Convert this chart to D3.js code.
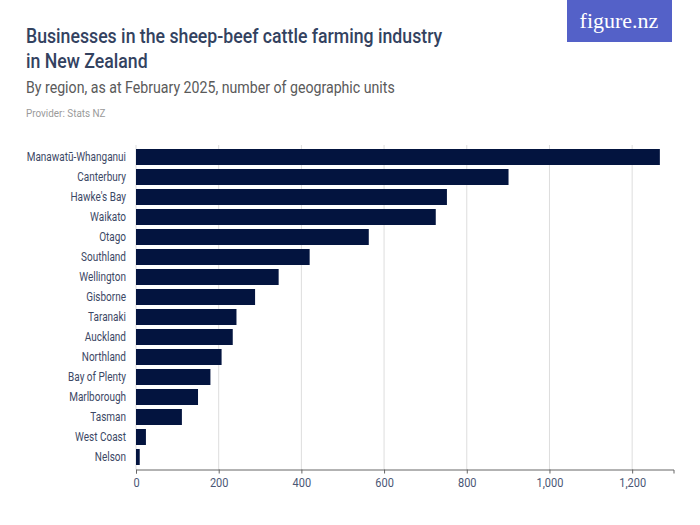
<!DOCTYPE html>
<html>
<head>
<meta charset="utf-8">
<script src="https://cdn.jsdelivr.net/npm/d3@7"></script>
<style>
  body { margin: 0; background: #fff; }
  svg { display: block; font-family: Roboto, "Noto Sans", sans-serif; }
</style>
</head>
<body>
<div id="chart"></div>
<script>
var regions = ['Manawatū-Whanganui', 'Canterbury', "Hawke's Bay", 'Waikato', 'Otago', 'Southland',
    'Wellington', 'Gisborne', 'Taranaki', 'Auckland', 'Northland', 'Bay of Plenty',
    'Marlborough', 'Tasman', 'West Coast', 'Nelson']
var units = [1267, 901, 752, 725, 563, 420, 345, 288, 243, 234, 207, 180, 150, 111, 24, 9]
var tickValues = [0, 200, 400, 600, 800, 1000, 1200]

var width = 700,
    height = 525,
    margins = {top: 147, right: 26.5, bottom: 58, left: 136}

var colors = {
    bar: '#03143f',
    title: '#33425f',
    subtitle: '#5a5a5a',
    provider: '#9a9a9a',
    label: '#3c4865',
    tick: '#4a5675',
    grid: '#dddddd',
    axis: '#666666',
    logo: '#5461c8'
}

var svg = d3.select('#chart').append('svg')
    .attr('width', width)
    .attr('height', height)

// the original uses a condensed grotesk, so squeeze Roboto horizontally
function headerText(x, y, size, weight, fill, squeeze, txt) {
    return svg.append('text')
        .attr('transform', 'translate(' + x + ',' + y + ') scale(' + squeeze + ',1)')
        .attr('fill', fill)
        .style('font-size', size + 'px')
        .style('font-weight', weight)
        .text(txt)
}

headerText(26, 43, 21, 500, colors.title, 0.843, 'Businesses in the sheep-beef cattle farming industry')
headerText(26, 68, 21, 500, colors.title, 0.843, 'in New Zealand')
headerText(26, 93, 16, 400, colors.subtitle, 0.885, 'By region, as at February 2025, number of geographic units')
headerText(26, 117, 11, 400, colors.provider, 0.9, 'Provider: Stats NZ')

// logo
svg.append('rect')
    .attr('x', 567).attr('y', 0)
    .attr('width', 105).attr('height', 42)
    .attr('fill', colors.logo)
svg.append('text')
    .attr('x', 619).attr('y', 28)
    .attr('text-anchor', 'middle')
    .attr('fill', '#fff')
    .style('font-family', '"Liberation Serif", "DejaVu Serif", serif')
    .style('font-size', '22px')
    .text('figure.nz')

var x = d3.scaleLinear()
    .domain([0, 1300])
    .range([margins.left, width - margins.right])

var y = d3.scaleBand()
    .domain(regions)
    .range([147, 467])
    .paddingInner(0.2)
    .paddingOuter(0.1)

var axisY = 469.5

// gridlines
svg.append('g')
    .selectAll('line')
    .data(tickValues)
    .enter().append('line')
    .attr('x1', function(d) { return x(d) })
    .attr('x2', function(d) { return x(d) })
    .attr('y1', 145)
    .attr('y2', axisY)
    .attr('stroke', colors.grid)
    .attr('stroke-width', 1)

// bars
svg.append('g')
    .selectAll('rect')
    .data(units)
    .enter().append('rect')
    .attr('x', x(0))
    .attr('y', function(d, i) { return y(regions[i]) })
    .attr('width', function(d) { return x(d) - x(0) })
    .attr('height', y.bandwidth())
    .attr('fill', colors.bar)

// region labels
svg.append('g')
    .selectAll('text')
    .data(regions)
    .enter().append('text')
    .attr('transform', function(d) {
        return 'translate(' + (margins.left - 10) + ',' + (y(d) + y.bandwidth() / 2) + ') scale(0.8,1)'
    })
    .attr('dy', '0.35em')
    .attr('text-anchor', 'end')
    .attr('fill', colors.label)
    .style('font-size', '12.5px')
    .text(function(d) { return d })

// x axis
var xAxis = d3.axisBottom(x)
    .tickValues(tickValues)
    .tickSize(4)
    .tickPadding(5)
    .tickFormat(d3.format(','))

var axisG = svg.append('g')
    .attr('transform', 'translate(0,' + axisY + ')')
    .call(xAxis)

axisG.select('.domain').attr('stroke', colors.axis)
axisG.selectAll('.tick line').attr('stroke', colors.axis)
axisG.selectAll('.tick text')
    .attr('fill', colors.tick)
    .attr('transform', 'scale(0.88,1)')
    .style('font-family', 'Roboto, sans-serif')
    .style('font-size', '12.5px')
</script>
</body>
</html>
